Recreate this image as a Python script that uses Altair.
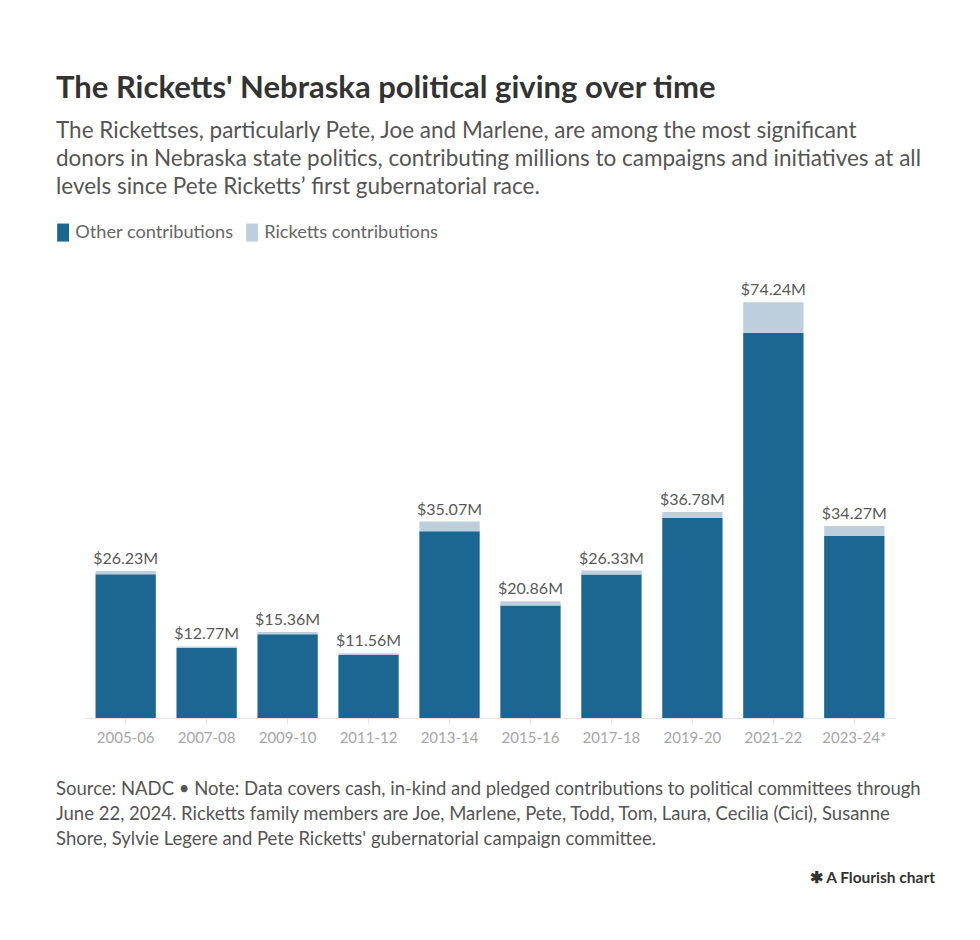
import altair as alt
import pandas as pd

periods = ["2005-06", "2007-08", "2009-10", "2011-12", "2013-14",
           "2015-16", "2017-18", "2019-20", "2021-22", "2023-24*"]
totals = [26.23, 12.77, 15.36, 11.56, 35.07, 20.86, 26.33, 36.78, 74.24, 34.27]
ricketts = [0.55, 0.28, 0.40, 0.30, 1.73, 0.75, 0.70, 1.07, 5.46, 1.78]
series = ["Other contributions", "Ricketts contributions"]
colors = ["#1c6791", "#bdcfdc"]

title = "The Ricketts' Nebraska political giving over time"
subtitle = [
    "The Rickettses, particularly Pete, Joe and Marlene, are among the most significant",
    "donors in Nebraska state politics, contributing millions to campaigns and initiatives at all",
    "levels since Pete Ricketts\u2019 first gubernatorial race.",
]
footer = [
    "Source: NADC \u2022 Note: Data covers cash, in-kind and pledged contributions to political committees through",
    "June 22, 2024. Ricketts family members are Joe, Marlene, Pete, Todd, Tom, Laura, Cecilia (Cici), Susanne",
    "Shore, Sylvie Legere and Pete Ricketts' gubernatorial campaign committee.",
]
credit = "\u2731 A Flourish chart"

FONT = "Lato"

rows = []
for p, t, r in zip(periods, totals, ricketts):
    rows.append({"period": p, "series": series[0], "value": round(t - r, 2), "ord": 0})
    rows.append({"period": p, "series": series[1], "value": r, "ord": 1})
df = pd.DataFrame(rows)
tot_df = pd.DataFrame({"period": periods, "total": totals})

W, H = 810, 448

xenc = alt.X(
    "period:N", sort=periods,
    scale=alt.Scale(paddingInner=0.255, paddingOuter=0.13),
    axis=alt.Axis(title=None, labelAngle=0, labelFontSize=15, labelColor="#a6a6a6",
                  labelFont=FONT, domainColor="#e3e3e3", tickColor="#e3e3e3",
                  tickSize=6, labelPadding=6, grid=False),
)

bars = alt.Chart(df).mark_bar().encode(
    x=xenc,
    y=alt.Y("value:Q", stack="zero", scale=alt.Scale(domain=[0, 80]), axis=None),
    color=alt.Color(
        "series:N",
        scale=alt.Scale(domain=series, range=colors),
        legend=alt.Legend(
            title=None, orient="none", legendX=-31, legendY=-47, direction="horizontal",
            symbolType="M-0.66,-1H0.66V1H-0.66Z", symbolSize=324, symbolStrokeWidth=0,
            labelFontSize=18.2, labelColor="#666666", labelFont=FONT, labelOffset=3,
            columnPadding=9, labelLimit=400,
        ),
    ),
    order=alt.Order("ord:Q"),
)

labels = alt.Chart(tot_df).transform_calculate(
    label="'$' + format(datum.total, '.2f') + 'M'"
).mark_text(dy=-7, baseline="alphabetic", fontSize=16, color="#595959", font=FONT).encode(
    x=alt.X("period:N", sort=periods),
    y=alt.Y("total:Q"),
    text="label:N",
)

one = pd.DataFrame({"t": [title], "s": ["\n".join(subtitle)], "f": ["\n".join(footer)], "c": [credit]})

title_t = alt.Chart(one).mark_text(
    align="left", baseline="alphabetic", fontSize=31, fontWeight="bold", color="#333333", font=FONT
).encode(text="t:N", x=alt.value(-29), y=alt.value(-172))

sub_t = alt.Chart(one).mark_text(
    align="left", baseline="alphabetic", fontSize=22.5, color="#555555", font=FONT,
    lineBreak="\n", lineHeight=28,
).encode(text="s:N", x=alt.value(-29), y=alt.value(-132))

foot_t = alt.Chart(one).mark_text(
    align="left", baseline="alphabetic", fontSize=18.5, color="#555555", font=FONT,
    lineBreak="\n", lineHeight=25,
).encode(text="f:N", x=alt.value(-29), y=alt.value(H + 77))

credit_t = alt.Chart(one).mark_text(
    align="right", baseline="alphabetic", fontSize=15.5, fontWeight="bold", color="#333333", font=FONT
).encode(text="c:N", x=alt.value(850), y=alt.value(H + 165))

chart = alt.layer(bars, labels, title_t, sub_t, foot_t, credit_t).properties(
    width=W, height=H,
    autosize=alt.AutoSizeParams(type="none"),
    padding={"left": 77, "top": 262, "right": 65, "bottom": 205},
    background="white",
).configure_view(stroke=None)

chart.save("out.html", embed_options={"renderer": "svg", "actions": False})
